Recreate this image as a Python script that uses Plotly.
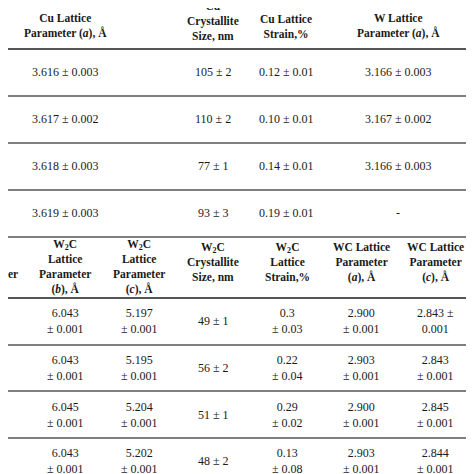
import plotly.graph_objects as go

# Top table (Cu / W phases)
top_headers = ["Cu Lattice<br>Parameter (<i>a</i>), Å", "Cu<br>Crystallite<br>Size, nm",
               "Cu Lattice<br>Strain,%", "W Lattice<br>Parameter (<i>a</i>), Å"]
cu_lattice = ["3.616 ± 0.003", "3.617 ± 0.002", "3.618 ± 0.003", "3.619 ± 0.003"]
cu_size = ["105 ± 2", "110 ± 2", "77 ± 1", "93 ± 3"]
cu_strain = ["0.12 ± 0.01", "0.10 ± 0.01", "0.14 ± 0.01", "0.19 ± 0.01"]
w_lattice = ["3.166 ± 0.003", "3.167 ± 0.002", "3.166 ± 0.003", "-"]

# Bottom table (W2C / WC phases)
bot_headers = ["W<sub>2</sub>C<br>Lattice<br>Parameter<br>(<i>b</i>), Å",
               "W<sub>2</sub>C<br>Lattice<br>Parameter<br>(<i>c</i>), Å",
               "W<sub>2</sub>C<br>Crystallite<br>Size, nm",
               "W<sub>2</sub>C<br>Lattice<br>Strain,%",
               "WC Lattice<br>Parameter<br>(<i>a</i>), Å",
               "WC Lattice<br>Parameter<br>(<i>c</i>), Å"]
w2c_b = ["6.043<br>± 0.001", "6.043<br>± 0.001", "6.045<br>± 0.001", "6.043<br>± 0.001"]
w2c_c = ["5.197<br>± 0.001", "5.195<br>± 0.001", "5.204<br>± 0.001", "5.202<br>± 0.001"]
w2c_size = ["49 ± 1", "56 ± 2", "51 ± 1", "48 ± 2"]
w2c_strain = ["0.3<br>± 0.03", "0.22<br>± 0.04", "0.29<br>± 0.02", "0.13<br>± 0.08"]
wc_a = ["2.900<br>± 0.001", "2.903<br>± 0.001", "2.900<br>± 0.001", "2.903<br>± 0.001"]
wc_c = ["2.843 ±<br>0.001", "2.843<br>± 0.001", "2.845<br>± 0.001", "2.844<br>± 0.001"]

FONT = "Liberation Serif"
fig = go.Figure()

def txt(x, y, s, bold=False, size=12):
    fig.add_annotation(x=x, y=y, text=f"<b>{s}</b>" if bold else s, showarrow=False,
                       xanchor="center", yanchor="middle",
                       font=dict(family=FONT, size=size, color="#1a1a1a"))

def hline(y, w=1.4):
    fig.add_shape(type="line", x0=0, x1=474, y0=y, y1=y,
                  line=dict(color="#555", width=w))

# top section
top_x = [57, 205, 278, 390]
top_hy = [18, 13, 18, 18]
for x, hy, h in zip(top_x, top_hy, top_headers):
    txt(x, hy, h, bold=True, size=11.5)
hline(41, 2)
top_cols = [cu_lattice, cu_size, cu_strain, w_lattice]
row_y = [64, 111, 158, 205]
for x, col in zip(top_x, top_cols):
    for y, v in zip(row_y, col):
        txt(x, y, v)
for y in [88, 135, 182]:
    hline(y)
hline(229, 1.6)

# bottom section
bot_x = [57, 131, 205, 279, 353, 427]
bot_hy = [259, 259, 254, 254, 254, 254]
for x, hy, h in zip(bot_x, bot_hy, bot_headers):
    txt(x, hy, h, bold=True, size=11.5)
txt(5, 266, "er", bold=True, size=11.5)
hline(290, 2)
bot_cols = [w2c_b, w2c_c, w2c_size, w2c_strain, wc_a, wc_c]
brow_y = [313, 360, 407, 453]
for x, col in zip(bot_x, bot_cols):
    for y, v in zip(brow_y, col):
        txt(x, y, v)
for y in [337, 383, 430]:
    hline(y)

fig.update_layout(
    width=474, height=474, margin=dict(l=0, r=0, t=0, b=0),
    paper_bgcolor="white", plot_bgcolor="white",
    xaxis=dict(range=[0, 474], visible=False, fixedrange=True),
    yaxis=dict(range=[474, 0], visible=False, fixedrange=True),
    showlegend=False,
)
fig.write_html("out.html")
